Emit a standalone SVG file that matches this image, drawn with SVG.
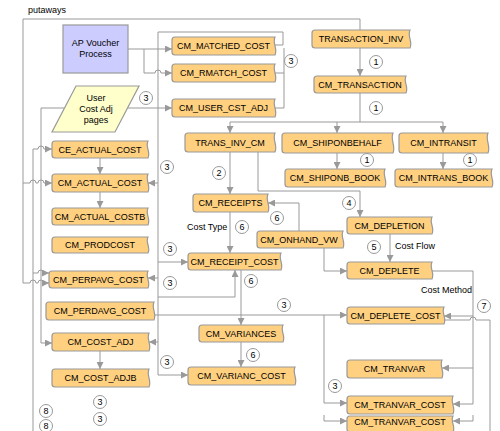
<svg xmlns="http://www.w3.org/2000/svg" width="500" height="431" viewBox="0 0 500 431">
<defs>
<marker id="ah" markerWidth="7" markerHeight="7" refX="7" refY="3.5" orient="auto" markerUnits="userSpaceOnUse"><path d="M0,0 L7,3.5 L0,7 z" fill="#999"/></marker>
<style>
.n{fill:#FFD080;stroke:#999;stroke-width:1.2}
.t{font-family:"Liberation Sans",Arial,sans-serif;font-size:9px;fill:#000;text-anchor:middle}
.l{font-family:"Liberation Sans",Arial,sans-serif;font-size:9px;fill:#000}
.c{fill:none;stroke:#999;stroke-width:1}
.a{marker-end:url(#ah)}
.b{fill:#fff;stroke:#999;stroke-width:1}
</style>
</defs>
<rect width="500" height="431" fill="#fff"/>
<g id="connectors">
<path class="c" d="M360,30 V19 H23 V283"/>
<path class="c a" d="M23,283 H30 a3,3 0 0 1 6,0 H38 a3,3 0 0 1 6,0 H49"/>
<path class="c a" d="M23,183 H30 a3,3 0 0 1 6,0 H38 a3,3 0 0 1 6,0 H52"/>
<path class="c a" d="M33,431 V149 H38 a3,3 0 0 1 6,0 H52"/>
<path class="c a" d="M33,273 H38 a3,3 0 0 1 6,0 H49"/>
<path class="c a" d="M64,108 H41 V343 H52"/>
<path class="c a" d="M100,158 V174"/>
<path class="c a" d="M100,192 V208"/>
<path class="c a" d="M100,351 V369"/>
<path class="c a" d="M128,49 H172"/>
<path class="c a" d="M144,49 V73 H155 a3,3 0 0 1 6,0 H172"/>
<path class="c a" d="M128,108 H172"/>
<path class="c a" d="M275,45 H283 V32 H158 V375 H188"/>
<path class="c a" d="M158,183 H148"/>
<path class="c a" d="M158,262 H188"/>
<path class="c a" d="M158,278 H148"/>
<path class="c a" d="M158,297 H235 V270"/>
<path class="c a" d="M158,342 H149"/>
<path class="c" d="M275,73 H284 M284,48 V108 H275"/>
<path class="c a" d="M360,48 V76"/>
<path class="c" d="M360,93 V122 M230,122 H443"/>
<path class="c a" d="M230,122 V133"/>
<path class="c a" d="M337,122 V133"/>
<path class="c a" d="M443,122 V133"/>
<path class="c a" d="M337,153 V169"/>
<path class="c a" d="M443,153 V169"/>
<path class="c a" d="M230,152 V194"/>
<path class="c a" d="M258,152 V191 H360 V217"/>
<path class="c a" d="M390,234 V262"/>
<path class="c a" d="M324,248 V271 H347"/>
<path class="c a" d="M299,231 V203 H268"/>
<path class="c a" d="M230,212 V253"/>
<path class="c a" d="M241,270 V325"/>
<path class="c a" d="M241,342 V367"/>
<path class="c a" d="M154,315 H347"/>
<path class="c a" d="M324,315 V403 H347"/>
<path class="c a" d="M432,271 H473 V404 H453"/>
<path class="c a" d="M473,316 H444"/>
<path class="c a" d="M473,368 H442"/>
<path class="c" d="M444,320 H470 a3,3 0 0 1 6,0 H490 V431"/>
<path class="c a" d="M473,415 V421 H453"/>
<path class="c a" d="M324,415 V421 H347"/>
</g>
<g id="labels">
<text class="l" x="28" y="13">putaways</text>
<text class="l" x="187" y="230">Cost Type</text>
<text class="l" x="395" y="249">Cost Flow</text>
<text class="l" x="472" y="293" text-anchor="end">Cost Method</text>
<g id="circles">
<circle class="b" cx="146" cy="98" r="6.5"/><text class="t" x="146" y="101.3">3</text>
<circle class="b" cx="376" cy="62" r="6.5"/><text class="t" x="376" y="65.3">1</text>
<circle class="b" cx="376" cy="108" r="6.5"/><text class="t" x="376" y="111.3">1</text>
<circle class="b" cx="291" cy="61" r="6.5"/><text class="t" x="291" y="64.3">3</text>
<circle class="b" cx="367" cy="160" r="6.5"/><text class="t" x="367" y="163.3">1</text>
<circle class="b" cx="470" cy="160" r="6.5"/><text class="t" x="470" y="163.3">1</text>
<circle class="b" cx="219" cy="173" r="6.5"/><text class="t" x="219" y="176.3">2</text>
<circle class="b" cx="349" cy="203" r="6.5"/><text class="t" x="349" y="206.3">4</text>
<circle class="b" cx="277" cy="218" r="6.5"/><text class="t" x="277" y="221.3">6</text>
<circle class="b" cx="242" cy="227" r="6.5"/><text class="t" x="242" y="230.3">6</text>
<circle class="b" cx="374" cy="247" r="6.5"/><text class="t" x="374" y="250.3">5</text>
<circle class="b" cx="167" cy="167" r="6.5"/><text class="t" x="167" y="170.3">3</text>
<circle class="b" cx="170" cy="249" r="6.5"/><text class="t" x="170" y="252.3">3</text>
<circle class="b" cx="170" cy="283" r="6.5"/><text class="t" x="170" y="286.3">3</text>
<circle class="b" cx="251" cy="281" r="6.5"/><text class="t" x="251" y="284.3">6</text>
<circle class="b" cx="284" cy="305" r="6.5"/><text class="t" x="284" y="308.3">3</text>
<circle class="b" cx="484" cy="306" r="6.5"/><text class="t" x="484" y="309.3">7</text>
<circle class="b" cx="253" cy="355" r="6.5"/><text class="t" x="253" y="358.3">6</text>
<circle class="b" cx="167" cy="362" r="6.5"/><text class="t" x="167" y="365.3">3</text>
<circle class="b" cx="335" cy="386" r="6.5"/><text class="t" x="335" y="389.3">3</text>
<circle class="b" cx="100" cy="402" r="6.5"/><text class="t" x="100" y="405.3">3</text>
<circle class="b" cx="100" cy="419" r="6.5"/><text class="t" x="100" y="422.3">3</text>
<circle class="b" cx="46" cy="411" r="6.5"/><text class="t" x="46" y="414.3">8</text>
<circle class="b" cx="46" cy="426" r="6.5"/><text class="t" x="46" y="429.3">8</text>
</g>
</g>
<g id="ap_voucher"><rect x="63" y="25" width="65" height="48" fill="#CCCCFF" stroke="#999" stroke-width="1.2"/><text class="t" x="95.5" y="46">AP Voucher</text><text class="t" x="95.5" y="57">Process</text></g>
<g id="user_cost_adj"><path d="M76,86 H139 L115,132 H52 Z" fill="#FFFFCC" stroke="#999" stroke-width="1.2"/><text class="t" x="96" y="101">User</text><text class="t" x="96" y="112">Cost Adj</text><text class="t" x="96" y="123">pages</text></g>
<g id="transaction_inv"><path class="n" d="M315,30 H410 C407,36.3 413,41.7 410,48 H315 Q312,48 312,45 V33 Q312,30 315,30 Z"/><text class="t" x="361" y="42.2">TRANSACTION_INV</text></g>
<g id="cm_transaction"><path class="n" d="M317,76 H406 C403,82 409,87 406,93 H317 Q314,93 314,90 V79 Q314,76 317,76 Z"/><text class="t" x="360" y="87.7">CM_TRANSACTION</text></g>
<g id="cm_matched_cost"><path class="n" d="M175,37 H275 C272,43.3 278,48.7 275,55 H175 Q172,55 172,52 V40 Q172,37 175,37 Z"/><text class="t" x="223.5" y="49.2">CM_MATCHED_COST</text></g>
<g id="cm_rmatch_cost"><path class="n" d="M175,64 H275 C272,70.3 278,75.7 275,82 H175 Q172,82 172,79 V67 Q172,64 175,64 Z"/><text class="t" x="223.5" y="76.2">CM_RMATCH_COST</text></g>
<g id="cm_user_cst_adj"><path class="n" d="M175,99 H275 C272,105.3 278,110.7 275,117 H175 Q172,117 172,114 V102 Q172,99 175,99 Z"/><text class="t" x="223.5" y="111.2">CM_USER_CST_ADJ</text></g>
<g id="trans_inv_cm"><path class="n" d="M188,133 H275 C272,139.7 278,145.3 275,152 H188 Q185,152 185,149 V136 Q185,133 188,133 Z"/><text class="t" x="230" y="145.7">TRANS_INV_CM</text></g>
<g id="cm_shiponbehalf"><path class="n" d="M285,133 H393 C390,140 396,146 393,153 H285 Q282,153 282,150 V136 Q282,133 285,133 Z"/><text class="t" x="337.5" y="146.2">CM_SHIPONBEHALF</text></g>
<g id="cm_intransit"><path class="n" d="M402,133 H488 C485,140 491,146 488,153 H402 Q399,153 399,150 V136 Q399,133 402,133 Z"/><text class="t" x="443.5" y="146.2">CM_INTRANSIT</text></g>
<g id="cm_shiponb_book"><path class="n" d="M288,169 H385 C382,175.3 388,180.7 385,187 H288 Q285,187 285,184 V172 Q285,169 288,169 Z"/><text class="t" x="335" y="181.2">CM_SHIPONB_BOOK</text></g>
<g id="cm_intrans_book"><path class="n" d="M398,169 H492 C489,175.3 495,180.7 492,187 H398 Q395,187 395,184 V172 Q395,169 398,169 Z"/><text class="t" x="443.5" y="181.2">CM_INTRANS_BOOK</text></g>
<g id="cm_receipts"><path class="n" d="M196,194 H268 C265,200.3 271,205.7 268,212 H196 Q193,212 193,209 V197 Q193,194 196,194 Z"/><text class="t" x="230.5" y="206.2">CM_RECEIPTS</text></g>
<g id="cm_onhand_vw"><path class="n" d="M260,231 H343 C340,237 346,242 343,248 H260 Q257,248 257,245 V234 Q257,231 260,231 Z"/><text class="t" x="299" y="242.7">CM_ONHAND_VW</text></g>
<g id="cm_depletion"><path class="n" d="M350,217 H432 C429,223 435,228 432,234 H350 Q347,234 347,231 V220 Q347,217 350,217 Z"/><text class="t" x="389.5" y="228.7">CM_DEPLETION</text></g>
<g id="cm_deplete"><path class="n" d="M350,262 H432 C429,268 435,273 432,279 H350 Q347,279 347,276 V265 Q347,262 350,262 Z"/><text class="t" x="389.5" y="273.7">CM_DEPLETE</text></g>
<g id="cm_receipt_cost"><path class="n" d="M191,253 H281 C278,259 284,264 281,270 H191 Q188,270 188,267 V256 Q188,253 191,253 Z"/><text class="t" x="234.5" y="264.7">CM_RECEIPT_COST</text></g>
<g id="cm_variances"><path class="n" d="M202,325 H283 C280,331 286,336 283,342 H202 Q199,342 199,339 V328 Q199,325 202,325 Z"/><text class="t" x="241" y="336.7">CM_VARIANCES</text></g>
<g id="cm_varianc_cost"><path class="n" d="M191,367 H295 C292,373.3 298,378.7 295,385 H191 Q188,385 188,382 V370 Q188,367 191,367 Z"/><text class="t" x="241.5" y="379.2">CM_VARIANC_COST</text></g>
<g id="cm_deplete_cost"><path class="n" d="M350,307 H444 C441,313 447,318 444,324 H350 Q347,324 347,321 V310 Q347,307 350,307 Z"/><text class="t" x="395.5" y="318.7">CM_DEPLETE_COST</text></g>
<g id="cm_tranvar"><path class="n" d="M350,360 H442 C439,366.3 445,371.7 442,378 H350 Q347,378 347,375 V363 Q347,360 350,360 Z"/><text class="t" x="394.5" y="372.2">CM_TRANVAR</text></g>
<g id="cm_tranvar_cost_1"><path class="n" d="M350,396 H453 C450,402.3 456,407.7 453,414 H350 Q347,414 347,411 V399 Q347,396 350,396 Z"/><text class="t" x="400" y="408.2">CM_TRANVAR_COST</text></g>
<g id="cm_tranvar_cost_2"><path class="n" d="M350,416 H453 C450,421.6 456,426.4 453,432 H350 Q347,432 347,429 V419 Q347,416 350,416 Z"/><text class="t" x="400" y="424.5">CM_TRANVAR_COST</text></g>
<g id="ce_actual_cost"><path class="n" d="M55,141 H148 C145,147 151,152 148,158 H55 Q52,158 52,155 V144 Q52,141 55,141 Z"/><text class="t" x="100" y="152.7">CE_ACTUAL_COST</text></g>
<g id="cm_actual_cost"><path class="n" d="M55,174 H148 C145,180.3 151,185.7 148,192 H55 Q52,192 52,189 V177 Q52,174 55,174 Z"/><text class="t" x="100" y="186.2">CM_ACTUAL_COST</text></g>
<g id="cm_actual_costb"><path class="n" d="M55,208 H148 C145,214 151,219 148,225 H55 Q52,225 52,222 V211 Q52,208 55,208 Z"/><text class="t" x="100" y="219.7">CM_ACTUAL_COSTB</text></g>
<g id="cm_prodcost"><path class="n" d="M55,237 H148 C145,242.6 151,247.4 148,253 H55 Q52,253 52,250 V240 Q52,237 55,237 Z"/><text class="t" x="100" y="248.2">CM_PRODCOST</text></g>
<g id="cm_perpavg_cost"><path class="n" d="M52,271 H148 C145,277 151,282 148,288 H52 Q49,288 49,285 V274 Q49,271 52,271 Z"/><text class="t" x="98.5" y="282.7">CM_PERPAVG_COST</text></g>
<g id="cm_perdavg_cost"><path class="n" d="M49,302 H154 C151,308.3 157,313.7 154,320 H49 Q46,320 46,317 V305 Q46,302 49,302 Z"/><text class="t" x="100" y="314.2">CM_PERDAVG_COST</text></g>
<g id="cm_cost_adj"><path class="n" d="M55,333 H149 C146,339.3 152,344.7 149,351 H55 Q52,351 52,348 V336 Q52,333 55,333 Z"/><text class="t" x="100.5" y="345.2">CM_COST_ADJ</text></g>
<g id="cm_cost_adjb"><path class="n" d="M55,369 H149 C146,375.3 152,380.7 149,387 H55 Q52,387 52,384 V372 Q52,369 55,369 Z"/><text class="t" x="100.5" y="381.2">CM_COST_ADJB</text></g>
</svg>
